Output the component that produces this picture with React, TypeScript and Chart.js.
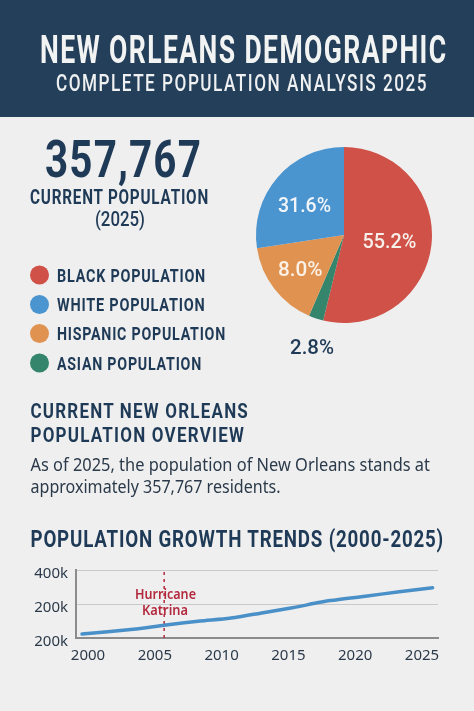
import { useEffect, useRef } from "react";
import { Chart, registerables } from "chart.js";

Chart.register(...registerables);

// pie, clockwise from 12 o'clock. shares are read off the drawn slices,
// which do not agree with the printed percentages in the picture
const pieCategories = ["Black", "Asian", "Hispanic", "White"];
const pieShares = [53.8, 2.7, 16.1, 27.4];
const pieColors = ["#cf5148", "#34856b", "#e09350", "#4a94cf"];

const legendLabels = ["BLACK POPULATION", "WHITE POPULATION", "HISPANIC POPULATION", "ASIAN POPULATION"];
const legendColors = ["#cf5148", "#4a94cf", "#e09350", "#34856b"];

const trendYears = [1999.55, 2003.4, 2005.7, 2008.4, 2010.6, 2012.9, 2015.3, 2018.1, 2020.9, 2023.3, 2025.8];
const trendValues = [23000, 52000, 75000, 100000, 116000, 146000, 178000, 220000, 247000, 272000, 296000];

const xTicks = [2000, 2005, 2010, 2015, 2020, 2025];
const yTicks = [0, 200000, 400000];
const yTickLabels = ["200k", "200k", "400k"];
const katrinaYear = 2005.7;

const NAVY = "#1f3a56";
const TICK = "#2b3a4a";
const HEAD = "Roboto, sans-serif";
const BODY = "'Noto Sans', sans-serif";

function Label(p: { x: number; y: number; w: number; size: number; text: string; weight?: number; color?: string; font?: string; track?: number }) {
  return (
    <text
      x={p.x}
      y={p.y}
      textLength={p.w}
      lengthAdjust="spacingAndGlyphs"
      fontSize={p.size}
      fontWeight={p.weight ?? 700}
      fill={p.color ?? NAVY}
      fontFamily={p.font ?? HEAD}
      letterSpacing={p.track ?? 0}
    >
      {p.text}
    </text>
  );
}

function PieChart() {
  const ref = useRef<HTMLCanvasElement | null>(null);
  useEffect(() => {
    if (!ref.current) return;
    const chart = new Chart(ref.current, {
      type: "pie",
      data: {
        labels: pieCategories,
        datasets: [{ data: pieShares, backgroundColor: pieColors, borderWidth: 0, radius: 88 }],
      },
      options: {
        responsive: false,
        animation: false,
        plugins: { legend: { display: false }, tooltip: { enabled: false } },
      },
    });
    return () => chart.destroy();
  }, []);
  return <canvas ref={ref} width={200} height={200} style={{ position: "absolute", left: 244, top: 135 }} />;
}

function TrendChart() {
  const ref = useRef<HTMLCanvasElement | null>(null);
  useEffect(() => {
    if (!ref.current) return;
    const chart = new Chart(ref.current, {
      type: "line",
      data: {
        datasets: [
          {
            data: trendYears.map((x, i) => ({ x, y: trendValues[i] })),
            borderColor: "#4a90c8",
            borderWidth: 3.5,
            borderCapStyle: "round",
            tension: 0.2,
            pointRadius: 0,
          },
          {
            data: [
              { x: katrinaYear, y: 0 },
              { x: katrinaYear, y: 400000 },
            ],
            borderColor: "#b5283c",
            borderWidth: 1.5,
            borderDash: [3, 4],
            pointRadius: 0,
          },
        ],
      },
      options: {
        responsive: false,
        animation: false,
        layout: { padding: { top: 10, right: 12 } },
        plugins: { legend: { display: false }, tooltip: { enabled: false } },
        scales: {
          x: {
            type: "linear",
            min: 1999.1,
            max: 2026.2,
            afterBuildTicks: (s: any) => {
              s.ticks = xTicks.map((value) => ({ value }));
            },
            afterFit: (s: any) => {
              s.height = 32;
            },
            grid: { display: false },
            border: { color: "#8c8c8c", width: 2 },
            ticks: {
              color: TICK,
              font: { family: "'Noto Sans'", size: 15 },
              padding: 1,
              maxRotation: 0,
              autoSkip: false,
              callback: (v: any) => String(v),
            },
          },
          y: {
            min: 0,
            max: 400000,
            afterBuildTicks: (s: any) => {
              s.ticks = yTicks.map((value) => ({ value }));
            },
            afterFit: (s: any) => {
              s.width = 56;
              // the tick label padding would otherwise push the plot area down
              s.paddingTop = 0;
              s.paddingBottom = 0;
            },
            grid: { color: "#c9c9c9", lineWidth: 1, drawTicks: false },
            border: { color: "#8c8c8c", width: 2 },
            ticks: {
              color: TICK,
              font: { family: "'Noto Sans'", size: 15 },
              padding: 8,
              labelOffset: 3.5,
              callback: (v: any) => yTickLabels[yTicks.indexOf(v)],
            },
          },
        },
      },
    });
    return () => chart.destroy();
  }, []);
  return <canvas ref={ref} width={430} height={110} style={{ position: "absolute", left: 20, top: 560 }} />;
}

export default function App() {
  const legendY = [275, 304.5, 333.5, 363];
  const legendW = [149, 148.5, 169, 145];
  return (
    <div style={{ position: "absolute", left: 0, top: 0, width: 474, height: 711, overflow: "hidden", background: "#efefef" }}>
      <div style={{ position: "absolute", left: 0, top: 0, width: 474, height: 117, background: "#243f5a" }} />
      <PieChart />
      <TrendChart />
      <svg width={474} height={711} style={{ position: "absolute", left: 0, top: 0 }}>
        <Label x={40} y={62.5} w={407.5} size={38} track={2} text="NEW ORLEANS DEMOGRAPHIC" color="#f2f3f3" />
        <Label x={56} y={91} w={372} size={23} weight={500} track={2} text="COMPLETE POPULATION ANALYSIS 2025" color="#eef0f1" />

        <Label x={45} y={176.7} w={157} size={52} track={1.5} text="357,767" />
        <Label x={30} y={203.5} w={179} size={20} track={1} text="CURRENT POPULATION" />
        <Label x={95} y={226} w={50} size={20} weight={500} text="(2025)" />

        <Label x={362.5} y={247.5} w={54} size={21} weight={500} text="55.2%" color="#f7efe9" />
        <Label x={278} y={211.7} w={53} size={21} weight={500} text="31.6%" color="#f2f6fa" />
        <Label x={278} y={276} w={44.5} size={21} weight={500} text="8.0%" color="#fbf1e6" />
        <Label x={290} y={354.3} w={44} size={21} weight={500} text="2.8%" />

        {legendLabels.map((t, i) => (
          <g key={t}>
            <circle cx={39.5} cy={legendY[i]} r={9.5} fill={legendColors[i]} />
            <Label x={57} y={legendY[i] + 6.6} w={legendW[i]} size={18.5} weight={700} track={1} text={t} />
          </g>
        ))}

        <Label x={30.5} y={418} w={218.5} size={21} track={1.5} text="CURRENT NEW ORLEANS" />
        <Label x={30.5} y={441.7} w={214.5} size={21} track={1.5} text="POPULATION OVERVIEW" />
        <Label x={30.5} y={470.7} w={399.5} size={17.5} weight={400} font={BODY} color={TICK} text="As of 2025, the population of New Orleans stands at" />
        <Label x={30.5} y={493.3} w={250} size={17.5} weight={400} font={BODY} color={TICK} text="approximately 357,767 residents." />

        <Label x={30.5} y={546.7} w={413.5} size={23.5} track={1} text="POPULATION GROWTH TRENDS (2000-2025)" />

        <Label x={135} y={599} w={61} size={14} weight={600} font={BODY} color="#b32a3f" text="Hurricane" />
        <Label x={142} y={615} w={46} size={14} weight={600} font={BODY} color="#b32a3f" text="Katrina" />
      </svg>
    </div>
  );
}
